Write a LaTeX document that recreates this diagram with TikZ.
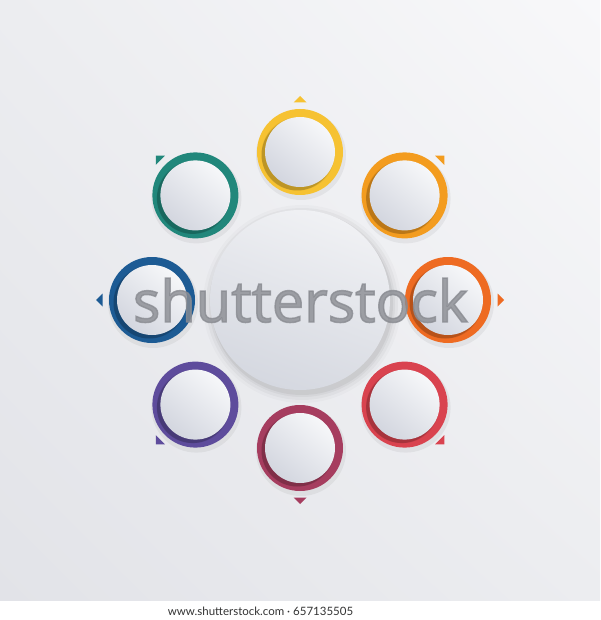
\documentclass[tikz,border=0pt]{standalone}
\usepackage{fontspec}
\setmainfont{Lato}
\newfontfamily\wmfont[FakeBold=2.5]{Open Sans}
\usetikzlibrary{calc,shadings}
\definecolor{bgUL}{HTML}{ECEDF0}
\definecolor{bgUR}{HTML}{F8F8FA}
\definecolor{bgLL}{HTML}{E2E3E8}
\definecolor{bgLR}{HTML}{ECEDF0}
\definecolor{cY}{HTML}{F6C232}
\definecolor{cO}{HTML}{F39C1F}
\definecolor{cOR}{HTML}{EE6B22}
\definecolor{cR}{HTML}{D9434F}
\definecolor{cM}{HTML}{A63D5F}
\definecolor{cP}{HTML}{5E4C9C}
\definecolor{cB}{HTML}{1D5B94}
\definecolor{cT}{HTML}{21877B}
\definecolor{diskHi}{HTML}{F6F7F9}
\definecolor{diskLo}{HTML}{D3D6DF}
\definecolor{ctrHi}{HTML}{F0F1F4}
\definecolor{ctrLo}{HTML}{D5D8E0}
\definecolor{wm}{HTML}{8A8C92}
\tikzset{
  ringnode/.style={circle, inner sep=0pt, minimum size=86pt, draw=none},
  disknode/.style={circle, inner sep=0pt, minimum size=70pt, draw=none,
    shading=axis, top color=diskHi, bottom color=diskLo, shading angle=-40},
}
\begin{document}
\begin{tikzpicture}[x=1pt,y=-1pt]
\useasboundingbox (0,0) rectangle (600,620);
\fill[white] (0,0) rectangle (600,620);
\shade[upper left=bgUL, upper right=bgUR, lower left=bgLL, lower right=bgLR] (0,0) rectangle (600,600);

% central disk with soft shadow
\foreach \r/\o in {99/0.02, 96/0.03, 93/0.04, 91/0.05}
  \fill[black, opacity=\o] (302,304) circle (\r);
\node[circle, inner sep=0pt, minimum size=180pt, shading=axis, top color=ctrHi, bottom color=ctrLo, shading angle=-20] (ctr) at (300,300) {};

% satellites
\foreach \x/\y/\c/\rot/\n in {
  300/152/cY/0/n1,
  404.6/195.4/cO/-45/n2,
  448/300/cOR/-90/n3,
  404.6/404.6/cR/-135/n4,
  300/448/cM/180/n5,
  195.4/404.6/cP/135/n6,
  152/300/cB/90/n7,
  195.4/195.4/cT/45/n8} {
  \coordinate (p\n) at (\x,\y);
  \fill[black, opacity=0.05] ($(p\n)+(1,3)$) circle (45);
  \node[ringnode, fill=\c] (ring\n) at (p\n) {};
  \fill[black, opacity=0.16] ($(p\n)+(-3,3)$) circle (35.5);
  \fill[black, opacity=0.08] ($(p\n)+(-2,2)$) circle (36.5);
  \node[disknode] (disk\n) at (p\n) {};
  \fill[\c, rotate around={\rot:(300,300)}] (293.5,102.5) -- (300,96) -- (306.5,102.5) -- cycle;
}

% watermark
\node[anchor=base, inner sep=0pt, text=wm, opacity=0.8] (wmark) at (300.5,322)
  {\resizebox{335pt}{!}{\wmfont shutterstock}};

% footer
\node[anchor=base, inner sep=0pt, text=black!80, font=\fontsize{11.5}{13}\selectfont] (foot) at (260.5,615)
  {www.shutterstock.com · 657135505};
\end{tikzpicture}
\end{document}
